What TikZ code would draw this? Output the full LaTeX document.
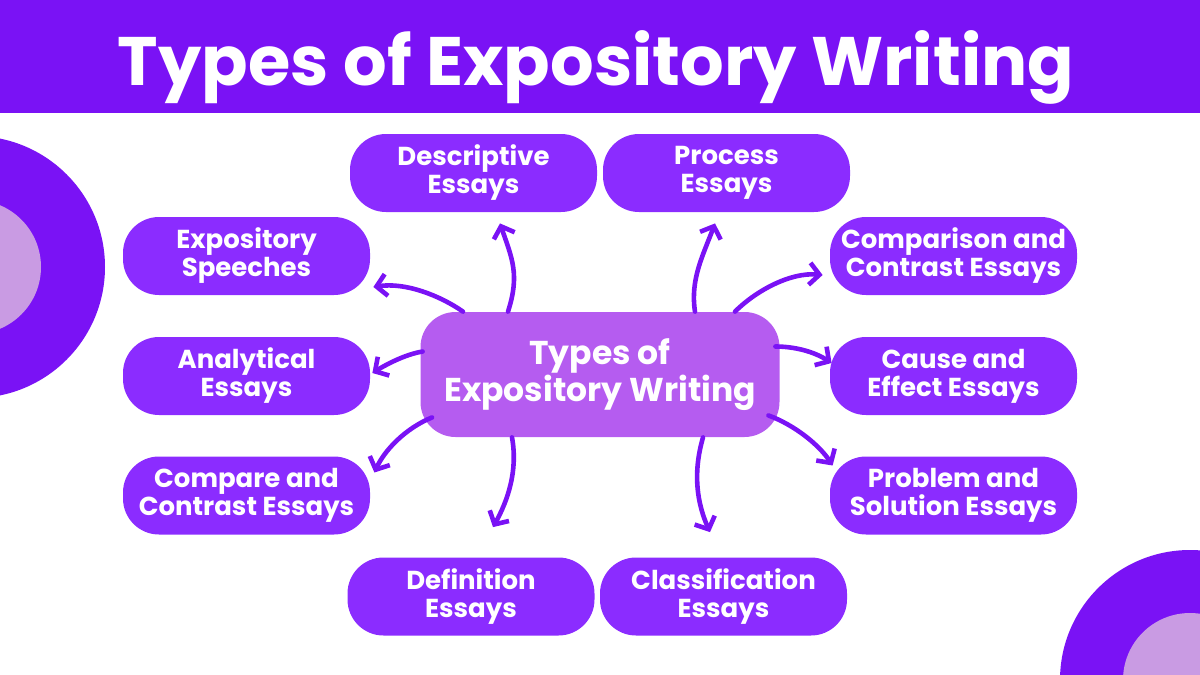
\documentclass[tikz,border=0pt]{standalone}
\usepackage{fontspec}
\setmainfont{Poppins}
\usetikzlibrary{arrows.meta,positioning,calc}
\definecolor{band}{HTML}{7A12F5}
\definecolor{boxc}{HTML}{8B2CFF}
\definecolor{midc}{HTML}{B55CF0}
\definecolor{soft}{HTML}{C99BE3}
\begin{document}
\begin{tikzpicture}[x=0.5pt,y=-0.5pt,
    box/.style={fill=boxc,text=white,rounded corners=18pt,minimum width=123.5pt,minimum height=39pt,
      align=center,font=\bfseries\fontsize{13}{14}\selectfont,inner sep=0pt},
    hub/.style={fill=midc,text=white,rounded corners=17.5pt,minimum width=179.5pt,minimum height=62.5pt,
      align=center,font=\bfseries\fontsize{16.5}{18.3}\selectfont,inner sep=0pt},
    arr/.style={draw=band,line width=2.3pt,line cap=round,-{Straight Barb[length=5pt,width=11pt,line width=2.3pt]}}]
    \useasboundingbox (0,0) rectangle (1200,675);
    \begin{scope}
      \clip (0,0) rectangle (1200,675);
      \fill[band] (-26,267) circle[radius=65.5pt];
      \fill[soft] (-26,267) circle[radius=33.5pt];
      \fill[band] (1190,680) circle[radius=65pt];
      \fill[soft] (1190,680) circle[radius=33.5pt];
    \end{scope}
    \fill[band] (0,0) rectangle (1200,113);
    \node[text=white,anchor=base,font=\bfseries\fontsize{34.3}{38}\selectfont] (title) at (596,85) {Types of Expository Writing};
    \node[hub] (c) at (600,374.5) {Types of\\Expository Writing};
    \node[box] (desc) at (473.5,173) {Descriptive\\Essays};
    \node[box] (proc) at (726.5,173) {Process\\Essays};
    \node[box] (speech) at (246.5,256) {Expository\\Speeches};
    \node[box] (comp) at (953.5,256) {Comparison and\\Contrast Essays};
    \node[box] (anal) at (246.5,376) {Analytical\\Essays};
    \node[box] (cause) at (953.5,376) {Cause and\\Effect Essays};
    \node[box] (contr) at (246.5,495.5) {Compare and\\Contrast Essays};
    \node[box] (prob) at (953.5,495.5) {Problem and\\Solution Essays};
    \node[box] (defn) at (471,596.5) {Definition\\Essays};
    \node[box] (class) at (723.5,596.5) {Classification\\Essays};
    % curved arrows out of the hub
    \draw[arr] ($(c.north)+(-92,0)$) .. controls +(12,-37) and +(12,35) .. ($(desc.south)+(26.5,11)$);
    \draw[arr] ($(c.north)+(95,0)$) .. controls +(-5,-32) and +(-12,32) .. ($(proc.south)+(-11.5,11)$);
    \draw[arr] ($(c.north)+(-137,0)$) .. controls +(-23,-16) and +(32,-5) .. ($(speech.east)+(3,31)$);
    \draw[arr] ($(c.north)+(135,0)$) .. controls +(20,-20) and +(-33,-3) .. ($(comp.west)+(-7,19)$);
    \draw[arr] ($(c.west)+(2.5,-23)$) .. controls +(-18,3) and +(13,-8) .. ($(anal.east)+(2,-3)$);
    \draw[arr] ($(c.east)+(-4.5,-28)$) .. controls +(20,0) and +(-17,-11) .. ($(cause.west)+(2,-13)$);
    \draw[arr] ($(c.south west)+(12,-20)$) .. controls +(-27,11) and +(10,-22) .. ($(contr.east)+(4,-23)$);
    \draw[arr] ($(c.south east)+(-11.5,-22)$) .. controls +(27,10) and +(-13,-20) .. ($(prob.west)+(3,-30)$);
    \draw[arr] ($(c.south)+(-88,0)$) .. controls +(6,33) and +(15,-27) .. ($(defn.north)+(22,-30)$);
    \draw[arr] ($(c.south)+(103,0)$) .. controls +(-11,38) and +(-12,-27) .. ($(class.north)+(-13.5,-25)$);
\end{tikzpicture}
\end{document}
